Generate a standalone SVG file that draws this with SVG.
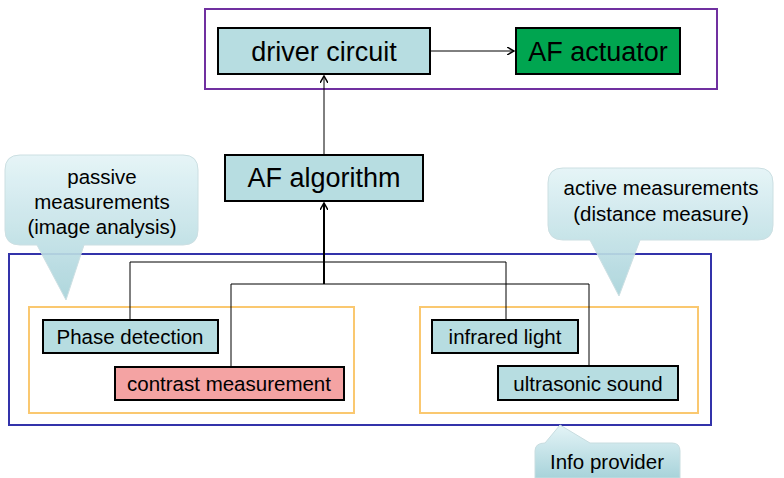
<svg xmlns="http://www.w3.org/2000/svg" width="784" height="478" viewBox="0 0 784 478">
<defs>
<linearGradient id="cg" x1="0" y1="0" x2="0" y2="1"><stop offset="0" stop-color="#e4f4f7"/><stop offset="1" stop-color="#a8d3da"/></linearGradient>
<marker id="ah" markerWidth="8" markerHeight="8" refX="7" refY="4" orient="auto" markerUnits="userSpaceOnUse"><path d="M0,0 L7,4 L0,8" fill="none" stroke="#000" stroke-width="1.5"/></marker>
<style>
.n{fill:#b7dde1;stroke:#000;stroke-width:2}
.t{font-family:"Liberation Sans",Arial,sans-serif;fill:#000;text-anchor:middle}
.c{fill:url(#cg);stroke:#c8dde0;stroke-width:1}
.w{fill:none;stroke:#000;stroke-width:1}
.s{font-size:20.5px}
.b{font-size:27px}
</style>
</defs>
<rect x="205" y="9" width="512" height="80" fill="none" stroke="#7030a0" stroke-width="2"/>
<rect x="9" y="254" width="702" height="171" fill="none" stroke="#3333aa" stroke-width="2"/>
<rect x="29" y="307" width="325" height="106" fill="none" stroke="#fac870" stroke-width="2"/>
<rect x="420" y="307" width="278" height="106" fill="none" stroke="#fac870" stroke-width="2"/>
<g id="connectors">
<line class="w" x1="430" y1="51" x2="514" y2="51" marker-end="url(#ah)"/>
<line class="w" x1="324" y1="155" x2="324" y2="76" marker-end="url(#ah)"/>
<polyline class="w" points="130,320 130,262 506,262 506,320"/>
<polyline class="w" points="231,367 231,284 589,284 589,366"/>
<line x1="324" y1="284" x2="324" y2="203" stroke="#000" stroke-width="2" marker-end="url(#ah)"/>
</g>
<g id="callout-passive"><path class="c" d="M20,155 H183 Q198,155 198,170 V230 Q198,245 183,245 H84 L66,300 L37,245 H20 Q5,245 5,230 V170 Q5,155 20,155 Z" opacity="0.92"/>
<text class="t s" x="102" y="184">passive</text><text class="t s" x="102" y="209">measurements</text><text class="t s" x="102" y="234">(image analysis)</text></g>
<g id="callout-active"><path class="c" d="M563,168 H758 Q773,168 773,183 V225 Q773,240 758,240 H640 L619,296 L590,240 H563 Q548,240 548,225 V183 Q548,168 563,168 Z" opacity="0.92"/>
<text class="t s" x="661" y="195">active measurements</text><text class="t s" x="661" y="221">(distance measure)</text></g>
<g id="callout-info"><path class="c" d="M545,443 L560,425 L590,443 H672 Q680,443 680,451 V478 H535 V451 Q535,443 545,443 Z"/>
<text class="t s" x="607" y="469">Info provider</text></g>
<g id="driver"><rect class="n" x="218" y="28" width="212" height="46"/><text class="t b" x="324" y="61">driver circuit</text></g>
<g id="actuator"><rect x="516" y="28" width="164" height="46" fill="#00a550" stroke="#000" stroke-width="2"/><text class="t b" x="598" y="61">AF actuator</text></g>
<g id="algorithm"><rect class="n" x="225" y="155" width="198" height="46"/><text class="t b" x="324" y="187">AF algorithm</text></g>
<g id="phase"><rect class="n" x="43" y="320" width="175" height="33"/><text class="t s" x="130" y="344">Phase detection</text></g>
<g id="contrast"><rect x="115" y="367" width="229" height="33" fill="#f4a3a3" stroke="#000" stroke-width="2"/><text class="t s" x="229" y="391">contrast measurement</text></g>
<g id="infrared"><rect class="n" x="432" y="320" width="146" height="33"/><text class="t s" x="505" y="344">infrared light</text></g>
<g id="ultrasonic"><rect class="n" x="498" y="366" width="180" height="34"/><text class="t s" x="588" y="391">ultrasonic sound</text></g>
</svg>
